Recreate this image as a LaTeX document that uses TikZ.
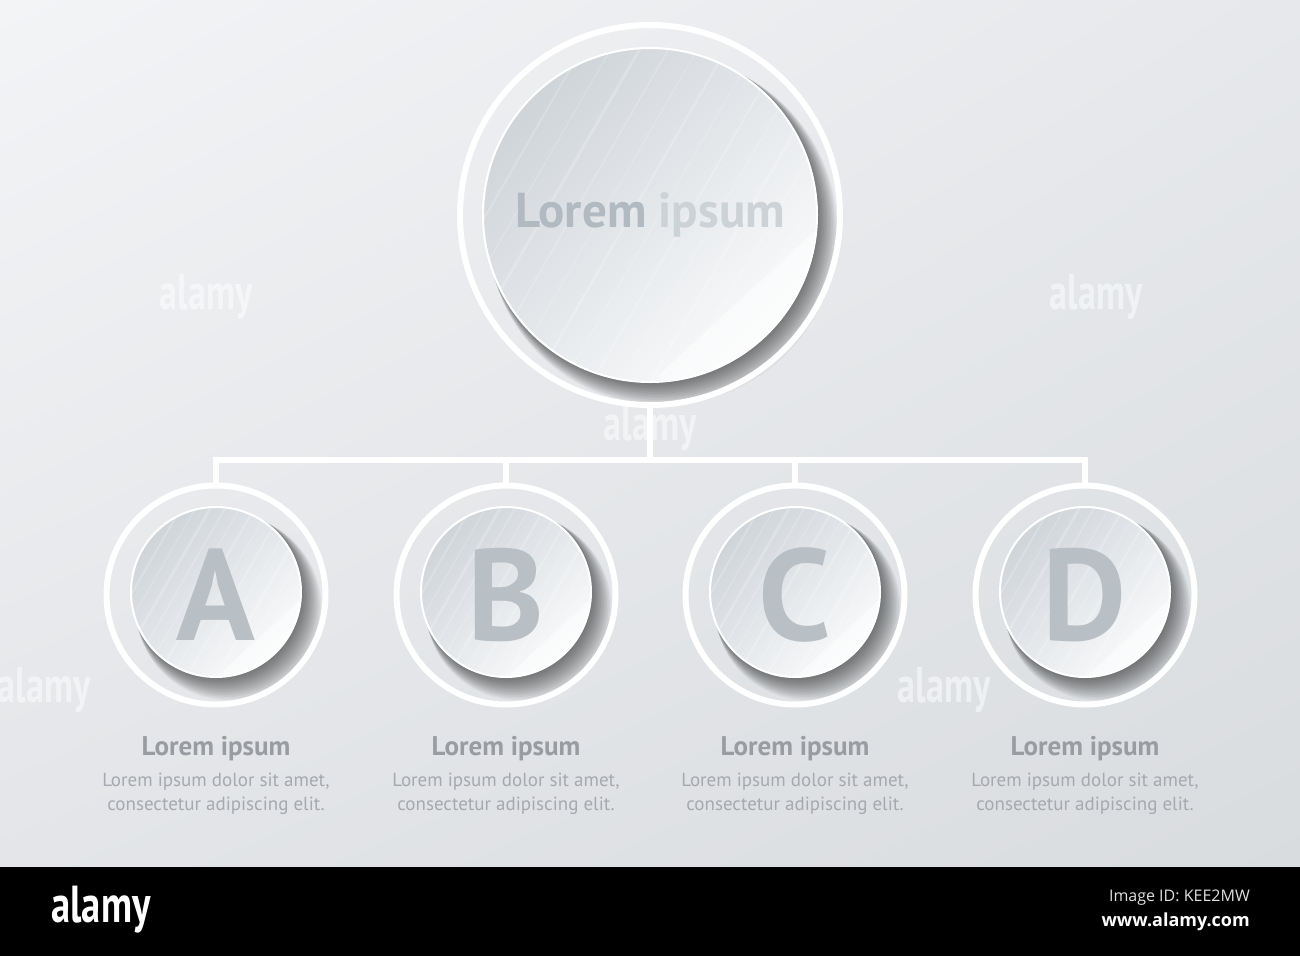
\documentclass[tikz,border=0pt]{standalone}
\usepackage{fontspec}
\usepackage{graphicx}
\setmainfont{PT Sans}
\newfontfamily\bandfont{Open Sans}
\usetikzlibrary{positioning,shadings}

\definecolor{bgul}{HTML}{F3F4F6}
\definecolor{bgur}{HTML}{E6E8EB}
\definecolor{bgll}{HTML}{E3E5E8}
\definecolor{bglr}{HTML}{D9DCDF}
\definecolor{discdark}{HTML}{CFD4D9}
\definecolor{disclight}{HTML}{FAFBFC}
\definecolor{lettercol}{HTML}{B8BFC5}
\definecolor{titledark}{HTML}{B2BAC1}
\definecolor{titlelight}{HTML}{CDD2D7}
\definecolor{headcol}{HTML}{999DA1}
\definecolor{bodycol}{HTML}{A6AAAE}

\newcommand{\discface}[3]{%
  \foreach \k in {1,...,14}
    \fill[black,opacity=.045] ({#1+\k*0.9},{#2+\k*1.1}) circle ({#3+\k*0.55});
  \shade[top color=discdark,bottom color=disclight,shading angle=45] (#1,#2) circle (#3);
  \begin{scope}
    \clip (#1,#2) circle (#3);
    \foreach \t/\w in {-0.85/2,-0.7/1,-0.55/3,-0.4/1.5,-0.25/1,-0.1/2.5,0.05/1,0.2/2,0.35/1,0.5/3,0.65/1.5,0.8/1}
      \draw[white,opacity=.2,line width=\w pt]
        ({#1+(\t)*#3*0.866-#3*0.5},{#2+(\t)*#3*0.5+#3*0.866}) --
        ({#1+(\t)*#3*0.866+#3*0.5},{#2+(\t)*#3*0.5-#3*0.866});
    \fill[white,opacity=.55] ({#1+0.98*#3},{#2+0.1*#3}) -- ({#1+0.04*#3},{#2+0.97*#3})
      -- ({#1+1.5*#3},{#2+1.5*#3}) -- cycle;
  \end{scope}
  \draw[white,line width=2pt] (#1,#2) circle (#3);
}

\begin{document}
\begin{tikzpicture}[x=1pt,y=-1pt,
    ring/.style={circle,draw=white,line width=6pt,inner sep=0pt},
    link/.style={draw=white,line width=5.5pt},
    letter/.style={font=\bfseries\fontsize{130}{130}\selectfont,text=lettercol},
    heading/.style={font=\bfseries\fontsize{27}{27}\selectfont,text=headcol,inner sep=0pt,anchor=base},
    body/.style={font=\fontsize{19}{23.5}\selectfont,text=bodycol,align=center,inner sep=0pt,anchor=north},
    watermark/.style={font=\bfseries\fontsize{50}{50}\selectfont,text=white,opacity=.5,inner sep=0pt}]

  \useasboundingbox (0,0) rectangle (1300,956);
  \shade[upper left=bgul,upper right=bgur,lower left=bgll,lower right=bglr] (0,0) rectangle (1300,867);
  \fill[black] (0,867) rectangle (1300,956);

  \discface{650}{215}{167}
  \foreach \cx in {216,506,795,1085}
    {\discface{\cx}{592}{85}}

  \node[ring,minimum size=380pt,font=\bfseries\fontsize{49}{49}\selectfont] (top) at (650,215)
    {\textcolor{titledark}{Lorem} \textcolor{titlelight}{ipsum}};

  \node[ring,minimum size=219pt,letter] (a) at (216,595) {A};
  \node[ring,minimum size=219pt,letter] (b) at (506,595) {B};
  \node[ring,minimum size=219pt,letter] (c) at (795,595) {C};
  \node[ring,minimum size=219pt,letter] (d) at (1085,595) {D};

  \coordinate (bar) at (650,460);
  \draw[link] (top) -- (bar);
  \draw[link] (bar) -| (a);
  \draw[link] (bar) -| (b);
  \draw[link] (bar) -| (c);
  \draw[link] (bar) -| (d);

  \foreach \n/\cx in {a/216,b/506,c/795,d/1085}
    {\node[heading] (h\n) at (\cx,755) {Lorem ipsum};
     \node[body] (t\n) at (\cx,773) {Lorem ipsum dolor sit amet,\\consectetur adipiscing elit.};}

  \node[watermark] (m1) at (206,297) {\scalebox{0.72}[1]{alamy}};
  \node[watermark] (m2) at (1096,297) {\scalebox{0.72}[1]{alamy}};
  \node[watermark] (m3) at (650,428) {\scalebox{0.72}[1]{alamy}};
  \node[watermark] (m4) at (44,690) {\scalebox{0.72}[1]{alamy}};
  \node[watermark] (m5) at (944,690) {\scalebox{0.72}[1]{alamy}};

  \node[font=\bfseries\fontsize{52}{52}\selectfont,text=white,inner sep=0pt] (logo) at (101,910)
    {\scalebox{0.74}[1]{alamy}};
  \node[font=\bandfont\fontsize{16}{16}\selectfont,text=white!88!black,inner sep=0pt,anchor=east] (imgid) at (1250,898)
    {Image ID: KEE2MW};
  \node[font=\bandfont\bfseries\fontsize{18}{18}\selectfont,text=white,inner sep=0pt,anchor=east] (site) at (1250,922)
    {www.alamy.com};
\end{tikzpicture}
\end{document}
